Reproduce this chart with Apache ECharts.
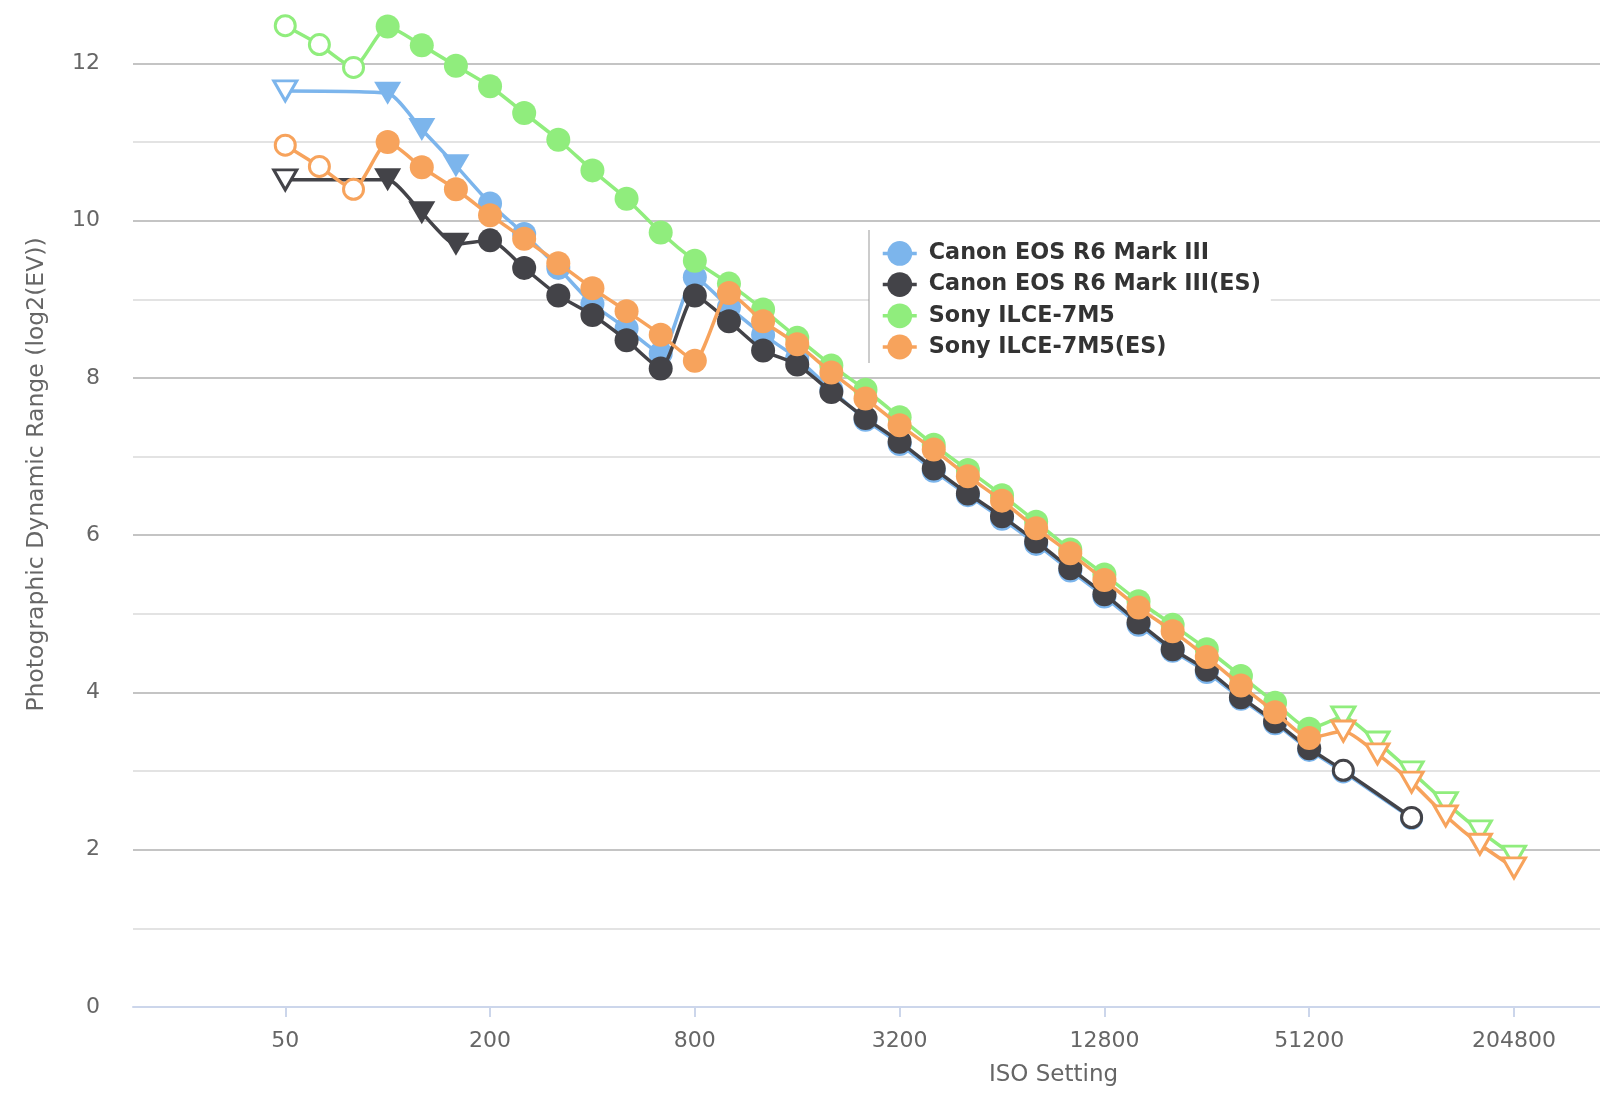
<!DOCTYPE html>
<html>
<head>
<meta charset="utf-8">
<title>Photographic Dynamic Range</title>
<script src="https://cdn.jsdelivr.net/npm/echarts@6/dist/echarts.min.js"></script>
<style>
  html, body { margin: 0; padding: 0; background: #fff; }
  #chart { width: 1600px; height: 1112px; }
</style>
</head>
<body>
<div id="chart"></div>
<script>
// ISO settings in 1/3 stop steps
const isoSettings = [50, 64, 80, 100, 125, 160, 200, 250, 320, 400, 500, 640, 800, 1000, 1250, 1600,
  2000, 2500, 3200, 4000, 5000, 6400, 8000, 10000, 12800, 16000, 20000, 25600, 32000, 40000, 51200,
  64000, 80000, 102400, 128000, 160000, 204800];

const isoTickLabels = [50, 200, 800, 3200, 12800, 51200, 204800];
const dynRangeLabels = [0, 2, 4, 6, 8, 10, 12];
const dynRangeGrid = [0, 1, 2, 3, 4, 5, 6, 7, 8, 9, 10, 11, 12];

const canonR6 = [11.65, null, null, 11.62, 11.16, 10.70, 10.22, 9.83, 9.40, 8.94, 8.63, 8.31, 9.28, 8.90,
  8.55, 8.25, 7.85, 7.47, 7.16, 6.82, 6.51, 6.21, 5.89, 5.55, 5.22, 4.86, 4.53, 4.26, 3.92, 3.61, 3.27,
  2.99, null, 2.40, null, null, null];
const canonR6ES = [10.52, null, null, 10.52, 10.10, 9.70, 9.75, 9.40, 9.05, 8.80, 8.48, 8.12, 9.05, 8.72,
  8.35, 8.17, 7.82, 7.49, 7.19, 6.85, 6.53, 6.24, 5.92, 5.58, 5.25, 4.89, 4.55, 4.29, 3.94, 3.63, 3.29,
  3.01, null, 2.41, null, null, null];
const sonyA7M5 = [12.48, 12.24, 11.95, 12.47, 12.23, 11.97, 11.71, 11.37, 11.03, 10.64, 10.28, 9.85, 9.49,
  9.20, 8.87, 8.51, 8.16, 7.85, 7.50, 7.15, 6.83, 6.51, 6.17, 5.82, 5.50, 5.16, 4.86, 4.55, 4.21, 3.87,
  3.54, 3.69, 3.37, 2.99, 2.60, 2.24, 1.92];
const sonyA7M5ES = [10.96, 10.69, 10.40, 11.00, 10.68, 10.40, 10.07, 9.77, 9.46, 9.14, 8.85, 8.55, 8.22,
  9.08, 8.72, 8.43, 8.07, 7.74, 7.40, 7.09, 6.75, 6.44, 6.09, 5.77, 5.43, 5.08, 4.78, 4.45, 4.09, 3.75,
  3.42, 3.51, 3.22, 2.86, 2.43, 2.07, 1.77];

// extended (hollow marker) and flagged (triangle marker) ISO settings
const canonExtendedIso = [50, 64000, 102400];
const canonTriangleIso = [50, 100, 125, 160];
const sonyExtendedIso = [50, 64, 80, 64000, 80000, 102400, 128000, 160000, 204800];
const sonyTriangleIso = [64000, 80000, 102400, 128000, 160000, 204800];

const seriesNames = ['Canon EOS R6 Mark III', 'Canon EOS R6 Mark III(ES)', 'Sony ILCE-7M5', 'Sony ILCE-7M5(ES)'];
const colors = ['#7cb5ec', '#434348', '#90ed7d', '#f7a35c'];

const FONT = 'DejaVu Sans';

// stops above ISO 50, snapped to thirds
const isoToStop = iso => Math.round(Math.log2(iso / 50) * 3) / 3;

function buildData(values, color, extendedIso, triangleIso) {
  const out = [];
  values.forEach((v, i) => {
    if (v === null) return;
    const iso = isoSettings[i];
    const hollow = extendedIso.indexOf(iso) >= 0;
    const tri = triangleIso.indexOf(iso) >= 0;
    out.push({
      value: [isoToStop(iso), v],
      symbol: tri ? 'triangle' : 'circle',
      symbolRotate: tri ? 180 : 0,
      symbolSize: tri ? (hollow ? [23, 20] : [27, 23]) : (hollow ? 20 : 24),
      itemStyle: hollow
        ? { color: '#fff', borderColor: color, borderWidth: 3 }
        : { color: color, borderWidth: 0 }
    });
  });
  return out;
}

const seriesData = [
  buildData(canonR6, colors[0], canonExtendedIso, canonTriangleIso),
  buildData(canonR6ES, colors[1], canonExtendedIso, canonTriangleIso),
  buildData(sonyA7M5, colors[2], sonyExtendedIso, sonyTriangleIso),
  buildData(sonyA7M5ES, colors[3], sonyExtendedIso, sonyTriangleIso)
];

const chart = echarts.init(document.getElementById('chart'), null, { renderer: 'canvas' });

const option = {
  animation: false,
  backgroundColor: '#fff',
  color: colors,
  grid: { left: 133, right: 0, top: 0, bottom: 105, containLabel: false },
  legend: {
    orient: 'vertical',
    left: 869,
    top: 233,
    padding: [8, 10, 6, 12],
    backgroundColor: '#fff',
    itemWidth: 34,
    itemHeight: 31,
    itemGap: 6.4,
    data: seriesNames,
    lineStyle: { width: 3.5 },
    textStyle: { fontFamily: FONT, fontSize: 22.3, fontWeight: 'bold', color: '#333', padding: [0, 0, 0, 7], lineHeight: 24 }
  },
  graphic: [{
    type: 'line',
    shape: { x1: 869, y1: 230, x2: 869, y2: 363 },
    style: { stroke: '#999', lineWidth: 1 },
    z: 100
  }],
  xAxis: {
    type: 'value',
    min: -1.487,
    max: 12.84,
    name: 'ISO Setting',
    nameLocation: 'middle',
    nameGap: 57,
    nameTextStyle: { fontFamily: FONT, fontSize: 23, color: '#666', padding: [0, 0, 0, 374] },
    axisLine: { show: true, lineStyle: { color: '#ccd6eb', width: 2 } },
    axisTick: { show: true, length: 10, lineStyle: { color: '#ccd6eb', width: 2 }, customValues: isoTickLabels.map(isoToStop) },
    axisLabel: {
      customValues: isoTickLabels.map(isoToStop),
      margin: 23,
      fontFamily: FONT, fontSize: 22, color: '#666',
      formatter: v => String(isoTickLabels[Math.round(v / 2)])
    },
    splitLine: { show: false }
  },
  yAxis: {
    type: 'value',
    min: 0,
    max: 12.807,
    name: 'Photographic Dynamic Range (log2(EV))',
    nameLocation: 'middle',
    nameGap: 84,
    nameTextStyle: { fontFamily: FONT, fontSize: 23.5, color: '#666', padding: [0, 0, 0, 58] },
    axisLine: { show: false },
    axisTick: { show: false, customValues: dynRangeGrid },
    axisLabel: { customValues: dynRangeLabels, margin: 33, fontFamily: FONT, fontSize: 22, color: '#666' },
    splitLine: { show: true, lineStyle: { color: ['#c4c4c4', '#e3e3e3'], width: 2 } }
  },
  series: seriesNames.map((name, i) => ({
    name: name,
    type: 'line',
    data: seriesData[i],
    symbol: 'circle',
    symbolSize: 24,
    smooth: 0.2,
    connectNulls: true,
    clip: false,
    lineStyle: { width: 3.5, color: colors[i] },
    itemStyle: { color: colors[i] },
    emphasis: { disabled: true },
    z: 2 + i
  }))
};

chart.setOption(option);
</script>
</body>
</html>
